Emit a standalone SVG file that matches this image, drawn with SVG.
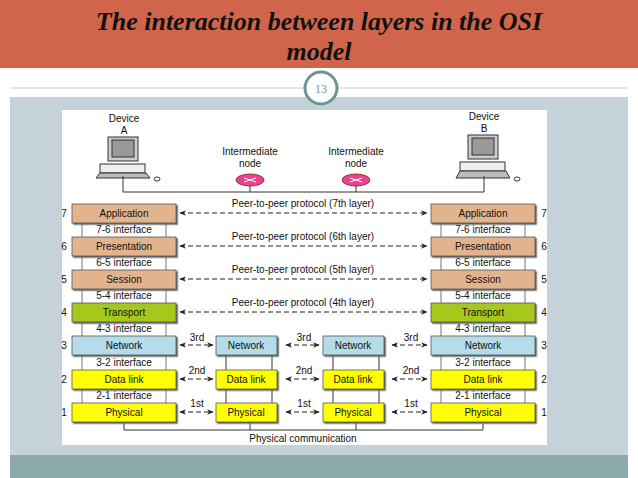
<svg xmlns="http://www.w3.org/2000/svg" width="638" height="478" viewBox="0 0 638 478">
<defs>
<style>
.t{font-family:"Liberation Sans",Arial,sans-serif;font-size:10px;fill:#111;text-anchor:middle}
.b{stroke:#555;stroke-width:0.8;filter:url(#sh)}
.app{fill:#E2B48E}.tr{fill:#A6C81C}.nw{fill:#B5DDE9}.yl{fill:#FFFF00}
.if{fill:#fff;stroke:#555;stroke-width:0.8}
.d{stroke:#222;stroke-width:1.1;stroke-dasharray:5,3;fill:none;marker-start:url(#a);marker-end:url(#a)}
.l{stroke:#333;stroke-width:1;fill:none}
</style>
<filter id="sh" x="-10%" y="-20%" width="130%" height="160%"><feDropShadow dx="1.5" dy="1.5" stdDeviation="0.6" flood-color="#666"/></filter>
<marker id="a" viewBox="0 0 10 10" refX="9" refY="5" markerWidth="6" markerHeight="6" orient="auto-start-reverse"><path d="M0,1 L10,5 L0,9 L3,5 z" fill="#222"/></marker>
</defs>
<rect width="638" height="478" fill="#fff"/>
<rect x="0" y="0" width="638" height="68" fill="#D1654B"/>
<text x="319" y="30" font-family="Liberation Serif,serif" font-weight="bold" font-style="italic" font-size="26" text-anchor="middle" fill="#111">The interaction between layers in the OSI</text>
<text x="319" y="60" font-family="Liberation Serif,serif" font-weight="bold" font-style="italic" font-size="26" text-anchor="middle" fill="#111">model</text>
<line x1="10" y1="88" x2="628" y2="88" stroke="#ccc"/>
<rect x="10" y="97" width="618" height="358" fill="#C5D2D9"/>
<rect x="10" y="455" width="618" height="23" fill="#8BA9AA"/>
<circle cx="321" cy="88" r="16" fill="#fff" stroke="#6E9394" stroke-width="3"/>
<text x="321" y="93" font-family="Liberation Serif,serif" font-size="12" text-anchor="middle" fill="#6E9394">13</text>
<rect x="62" y="110" width="485" height="335" fill="#fff"/>

<g id="deviceA">
<text class="t" x="124" y="122">Device</text><text class="t" x="124" y="134">A</text>
<rect x="108" y="137" width="30" height="24" fill="#ccc" stroke="#333"/><rect x="112" y="140" width="22" height="17" fill="#999" stroke="#333"/>
<rect x="100" y="164" width="45" height="9" fill="#eee" stroke="#333"/>
<path d="M96,178 L150,178 L146,173 L100,173 Z" fill="#bbb" stroke="#333"/>
<ellipse cx="157" cy="179" rx="3" ry="2" fill="#fff" stroke="#333"/>
</g>
<g id="deviceB">
<text class="t" x="484" y="120">Device</text><text class="t" x="484" y="132">B</text>
<rect x="468" y="135" width="30" height="24" fill="#ccc" stroke="#333"/><rect x="472" y="138" width="22" height="17" fill="#999" stroke="#333"/>
<rect x="460" y="162" width="45" height="9" fill="#eee" stroke="#333"/>
<path d="M456,178 L510,178 L506,171 L460,171 Z" fill="#bbb" stroke="#333"/>
<ellipse cx="517" cy="179" rx="3" ry="2" fill="#fff" stroke="#333"/>
</g>
<g id="router1"><text class="t" x="250" y="155">Intermediate</text><text class="t" x="250" y="167">node</text>
<ellipse cx="250" cy="180" rx="14" ry="6" fill="#E8438F" stroke="#933"/><path d="M244,178 L256,182 M244,182 L256,178" stroke="#fff"/></g>
<g id="router2"><text class="t" x="356" y="155">Intermediate</text><text class="t" x="356" y="167">node</text>
<ellipse cx="356" cy="180" rx="14" ry="6" fill="#E8438F" stroke="#933"/><path d="M350,178 L362,182 M350,182 L362,178" stroke="#fff"/></g>

<g id="connectors">
<path class="l" d="M123,176 V192 H484 V176 M250,186 V192 M356,186 V192"/>
<path class="l" d="M124,420 V430 H483 V420 M250,420 V430 M356,420 V430"/>
<path class="l" d="M226,354 V370 M272,354 V370 M226,388 V403 M272,388 V403 M333,354 V370 M379,354 V370 M333,388 V403 M379,388 V403"/>
<line class="d" x1="180" y1="213" x2="427" y2="213"/>
<line class="d" x1="180" y1="246" x2="427" y2="246"/>
<line class="d" x1="180" y1="279" x2="427" y2="279"/>
<line class="d" x1="180" y1="312" x2="427" y2="312"/>
<line class="d" x1="180" y1="345" x2="213" y2="345"/><line class="d" x1="286" y1="345" x2="319" y2="345"/><line class="d" x1="392" y1="345" x2="427" y2="345"/>
<line class="d" x1="180" y1="379" x2="213" y2="379"/><line class="d" x1="286" y1="379" x2="319" y2="379"/><line class="d" x1="392" y1="379" x2="427" y2="379"/>
<line class="d" x1="180" y1="412" x2="213" y2="412"/><line class="d" x1="286" y1="412" x2="319" y2="412"/><line class="d" x1="392" y1="412" x2="427" y2="412"/>
<text class="t" x="303" y="207">Peer-to-peer protocol (7th layer)</text>
<text class="t" x="303" y="240">Peer-to-peer protocol (6th layer)</text>
<text class="t" x="303" y="273">Peer-to-peer protocol (5th layer)</text>
<text class="t" x="303" y="306">Peer-to-peer protocol (4th layer)</text>
<text class="t" x="197" y="341">3rd</text><text class="t" x="304" y="341">3rd</text><text class="t" x="411" y="341">3rd</text>
<text class="t" x="197" y="374">2nd</text><text class="t" x="304" y="374">2nd</text><text class="t" x="411" y="374">2nd</text>
<text class="t" x="197" y="407">1st</text><text class="t" x="304" y="407">1st</text><text class="t" x="411" y="407">1st</text>
<text class="t" x="303" y="442">Physical communication</text>
</g>

<g id="stackA">
<rect class="if" x="82" y="222" width="84" height="60"/><rect class="if" x="82" y="288" width="84" height="120"/>
<text class="t" x="124" y="233">7-6 interface</text><text class="t" x="124" y="266">6-5 interface</text><text class="t" x="124" y="299">5-4 interface</text>
<text class="t" x="124" y="332">4-3 interface</text><text class="t" x="124" y="366">3-2 interface</text><text class="t" x="124" y="399">2-1 interface</text>
<rect class="b app" x="72" y="204" width="104" height="19"/><text class="t" x="124" y="217">Application</text>
<rect class="b app" x="72" y="237" width="104" height="19"/><text class="t" x="124" y="250">Presentation</text>
<rect class="b app" x="72" y="270" width="104" height="19"/><text class="t" x="124" y="283">Session</text>
<rect class="b tr" x="72" y="303" width="104" height="19"/><text class="t" x="124" y="316">Transport</text>
<rect class="b nw" x="72" y="336" width="104" height="19"/><text class="t" x="124" y="349">Network</text>
<rect class="b yl" x="72" y="370" width="104" height="19"/><text class="t" x="124" y="383">Data link</text>
<rect class="b yl" x="72" y="403" width="104" height="19"/><text class="t" x="124" y="416">Physical</text>
<text class="t" x="64" y="217">7</text><text class="t" x="64" y="250">6</text><text class="t" x="64" y="283">5</text><text class="t" x="64" y="316">4</text><text class="t" x="64" y="349">3</text><text class="t" x="64" y="383">2</text><text class="t" x="64" y="416">1</text>
</g>
<g id="stackB">
<rect class="if" x="441" y="222" width="84" height="60"/><rect class="if" x="441" y="288" width="84" height="120"/>
<text class="t" x="483" y="233">7-6 interface</text><text class="t" x="483" y="266">6-5 interface</text><text class="t" x="483" y="299">5-4 interface</text>
<text class="t" x="483" y="332">4-3 interface</text><text class="t" x="483" y="366">3-2 interface</text><text class="t" x="483" y="399">2-1 interface</text>
<rect class="b app" x="431" y="204" width="104" height="19"/><text class="t" x="483" y="217">Application</text>
<rect class="b app" x="431" y="237" width="104" height="19"/><text class="t" x="483" y="250">Presentation</text>
<rect class="b app" x="431" y="270" width="104" height="19"/><text class="t" x="483" y="283">Session</text>
<rect class="b tr" x="431" y="303" width="104" height="19"/><text class="t" x="483" y="316">Transport</text>
<rect class="b nw" x="431" y="336" width="104" height="19"/><text class="t" x="483" y="349">Network</text>
<rect class="b yl" x="431" y="370" width="104" height="19"/><text class="t" x="483" y="383">Data link</text>
<rect class="b yl" x="431" y="403" width="104" height="19"/><text class="t" x="483" y="416">Physical</text>
<text class="t" x="544" y="217">7</text><text class="t" x="544" y="250">6</text><text class="t" x="544" y="283">5</text><text class="t" x="544" y="316">4</text><text class="t" x="544" y="349">3</text><text class="t" x="544" y="383">2</text><text class="t" x="544" y="416">1</text>
</g>
<g id="node1">
<rect class="b nw" x="216" y="336" width="61" height="19"/><text class="t" x="246" y="349">Network</text>
<rect class="b yl" x="216" y="370" width="61" height="19"/><text class="t" x="246" y="383">Data link</text>
<rect class="b yl" x="216" y="403" width="61" height="19"/><text class="t" x="246" y="416">Physical</text>
</g>
<g id="node2">
<rect class="b nw" x="323" y="336" width="61" height="19"/><text class="t" x="353" y="349">Network</text>
<rect class="b yl" x="323" y="370" width="61" height="19"/><text class="t" x="353" y="383">Data link</text>
<rect class="b yl" x="323" y="403" width="61" height="19"/><text class="t" x="353" y="416">Physical</text>
</g>
</svg>
